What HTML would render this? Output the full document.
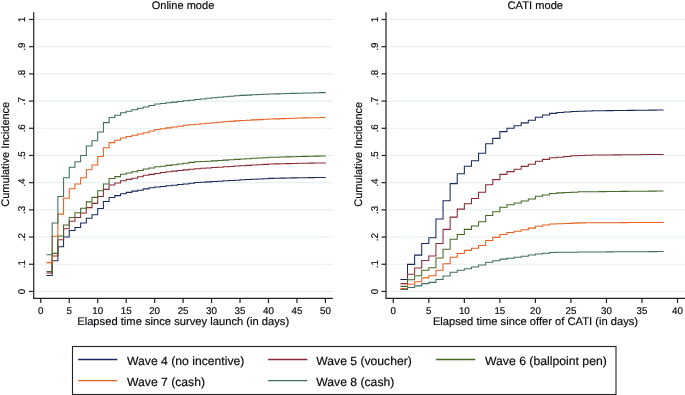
<!DOCTYPE html>
<html lang="en"><head><meta charset="utf-8"><title>Cumulative incidence by mode</title>
<style>html,body{margin:0;padding:0;background:#fff}body{width:685px;height:395px;overflow:hidden}svg{display:block}</style></head>
<body>
<svg width="685" height="395" viewBox="0 0 685 395">
<rect width="685" height="395" fill="#fff"/>
<g stroke="#e6eff1" stroke-width="1.1" fill="none">
<path d="M33.5 291.45H332.9"/>
<path d="M386 291.45H685"/>
<path d="M33.5 264.25H332.9"/>
<path d="M386 264.25H685"/>
<path d="M33.5 237.06H332.9"/>
<path d="M386 237.06H685"/>
<path d="M33.5 209.87H332.9"/>
<path d="M386 209.87H685"/>
<path d="M33.5 182.67H332.9"/>
<path d="M386 182.67H685"/>
<path d="M33.5 155.47H332.9"/>
<path d="M386 155.47H685"/>
<path d="M33.5 128.28H332.9"/>
<path d="M386 128.28H685"/>
<path d="M33.5 101.09H332.9"/>
<path d="M386 101.09H685"/>
<path d="M33.5 73.89H332.9"/>
<path d="M386 73.89H685"/>
<path d="M33.5 46.69H332.9"/>
<path d="M386 46.69H685"/>
<path d="M33.5 19.50H332.9"/>
<path d="M386 19.50H685"/>
</g>
<g fill="none" stroke-width="1.05" stroke-linejoin="miter">
<path stroke="#1a2a5c" d="M46.49 275.43H52.18V260.72H57.88V246.83H63.57V237.02H69.26V230.56H74.95V227.49H80.64V222.96H86.34V218.22H92.03V214.68H97.72V208.42H103.41V201.47H109.10V197.52H114.80V195.62H120.49V193.71H126.18V192.35H131.87V191.12H137.56V190.17H143.26V188.86H148.95V187.72H154.64V187.09H160.33V186.46H166.02V185.81H171.72V185.26H177.41V184.56H183.10V183.90H188.79V183.17H194.48V182.54H200.18V182.19H205.87V181.85H211.56V181.50H217.25V181.17H222.94V180.83H228.64V180.49H234.33V180.15H240.02V179.82H245.71V179.53H251.40V179.24H257.10V178.95H262.79V178.66H268.48V178.37H274.17V178.25H279.86V178.13H285.56V178.01H291.25V177.89H296.94V177.77H302.63V177.69H308.32V177.61H314.02V177.53H319.71V177.45H325.40V177.36"/>
<path stroke="#8a2a36" d="M46.49 272.98H52.18V256.09H57.88V239.74H63.57V228.68H69.26V221.33H74.95V217.41H80.64V213.05H86.34V207.60H92.03V203.35H97.72V196.43H103.41V189.35H109.10V184.99H114.80V183.08H120.49V180.77H126.18V179.38H131.87V178.18H137.56V176.82H143.26V175.32H148.95V174.37H154.64V173.41H160.33V172.46H166.02V171.78H171.72V171.10H177.41V170.55H183.10V169.87H188.79V169.19H194.48V168.65H200.18V168.28H205.87V167.92H211.56V167.56H217.25V167.19H222.94V166.82H228.64V166.45H234.33V166.08H240.02V165.71H245.71V165.37H251.40V165.03H257.10V164.69H262.79V164.35H268.48V164.02H274.17V163.88H279.86V163.74H285.56V163.61H291.25V163.47H296.94V163.34H302.63V163.23H308.32V163.12H314.02V163.01H319.71V162.90H325.40V162.79"/>
<path stroke="#456826" d="M46.49 271.61H52.18V253.36H57.88V235.93H63.57V224.90H69.26V217.41H74.95V212.78H80.64V208.15H86.34V201.88H92.03V197.39H97.72V190.71H103.41V183.90H109.10V178.56H114.80V176.63H120.49V174.29H126.18V173.01H131.87V171.78H137.56V170.55H143.26V168.92H148.95V167.97H154.64V166.82H160.33V166.20H166.02V165.38H171.72V164.70H177.41V163.91H183.10V163.20H188.79V162.38H194.48V161.84H200.18V161.52H205.87V161.20H211.56V160.88H217.25V160.50H222.94V160.12H228.64V159.74H234.33V159.36H240.02V158.98H245.71V158.65H251.40V158.32H257.10V158.00H262.79V157.67H268.48V157.34H274.17V157.18H279.86V157.02H285.56V156.85H291.25V156.69H296.94V156.53H302.63V156.39H308.32V156.25H314.02V156.12H319.71V155.98H325.40V155.84"/>
<path stroke="#e6601f" d="M46.49 262.63H52.18V236.20H57.88V214.14H63.57V198.34H69.26V188.67H74.95V184.04H80.64V177.72H86.34V169.74H92.03V164.94H97.72V156.47H103.41V147.67H109.10V142.63H114.80V140.15H120.49V138.03H126.18V136.50H131.87V135.25H137.56V134.05H143.26V132.69H148.95V131.06H154.64V129.56H160.33V128.71H166.02V127.87H171.72V127.02H177.41V126.18H183.10V125.34H188.79V124.81H194.48V124.29H200.18V123.77H205.87V123.24H211.56V122.72H217.25V122.26H222.94V121.81H228.64V121.35H234.33V120.89H240.02V120.43H245.71V120.16H251.40V119.89H257.10V119.62H262.79V119.34H268.48V119.07H274.17V118.85H279.86V118.63H285.56V118.42H291.25V118.20H296.94V117.98H302.63V117.87H308.32V117.76H314.02V117.65H319.71V117.55H325.40V117.44"/>
<path stroke="#3f6e5e" d="M46.49 254.73H52.18V222.99H57.88V196.43H63.57V177.72H69.26V167.20H74.95V161.84H80.64V155.41H86.34V146.04H92.03V140.73H97.72V131.98H103.41V122.61H109.10V117.52H114.80V115.26H120.49V112.72H126.18V111.17H131.87V109.81H137.56V108.28H143.26V107.09H148.95V105.45H154.64V104.09H160.33V103.44H166.02V102.78H171.72V102.13H177.41V101.47H183.10V100.82H188.79V100.19H194.48V99.57H200.18V98.94H205.87V98.31H211.56V97.69H217.25V97.22H222.94V96.76H228.64V96.30H234.33V95.84H240.02V95.37H245.71V95.10H251.40V94.83H257.10V94.55H262.79V94.28H268.48V94.01H274.17V93.85H279.86V93.68H285.56V93.52H291.25V93.36H296.94V93.19H302.63V93.05H308.32V92.91H314.02V92.77H319.71V92.63H325.40V92.48"/>
<path stroke="#1a2a5c" d="M400.41 279.41H407.51V264.37H414.62V255.11H421.72V243.48H428.83V237.84H435.93V219.04H443.04V200.71H450.14V183.63H457.25V173.66H464.35V166.20H471.46V160.75H478.56V153.18H485.67V143.80H492.77V138.36H499.88V131.60H506.98V128.28H514.09V125.72H521.19V122.88H528.30V120.30H535.40V117.16H542.50V114.98H549.61V113.35H556.72V112.53H563.82V111.99H570.92V111.58H578.03V111.17H585.13V110.90H592.24V110.81H599.35V110.73H606.45V110.64H613.56V110.55H620.66V110.47H627.76V110.38H634.87V110.29H641.98V110.21H649.08V110.12H656.18V110.03H663.29V109.95"/>
<path stroke="#8a2a36" d="M400.41 283.60H407.51V274.34H414.62V268.07H421.72V260.45H428.83V256.09H435.93V243.56H443.04V229.39H450.14V217.13H457.25V209.13H464.35V203.65H471.46V198.50H478.56V192.26H485.67V184.72H492.77V179.63H499.88V174.37H506.98V171.64H514.09V169.19H521.19V166.39H528.30V164.34H535.40V161.29H542.50V159.39H549.61V157.75H556.72V157.21H563.82V156.53H570.92V155.84H578.03V155.44H585.13V155.16H592.24V155.09H599.35V155.02H606.45V154.95H613.56V154.88H620.66V154.80H627.76V154.73H634.87V154.66H641.98V154.59H649.08V154.52H656.18V154.45H663.29V154.37"/>
<path stroke="#456826" d="M400.41 286.38H407.51V279.79H414.62V275.76H421.72V270.31H428.83V267.80H435.93V258.05H443.04V249.17H450.14V239.31H457.25V234.49H464.35V229.39H471.46V226.02H478.56V221.71H485.67V215.50H492.77V211.69H499.88V207.19H506.98V204.66H514.09V202.97H521.19V200.93H528.30V199.05H535.40V196.27H542.50V194.99H549.61V193.57H556.72V192.89H563.82V192.48H570.92V192.21H578.03V191.80H585.13V191.73H592.24V191.67H599.35V191.60H606.45V191.53H613.56V191.46H620.66V191.39H627.76V191.32H634.87V191.26H641.98V191.19H649.08V191.12H656.18V191.05H663.29V190.98"/>
<path stroke="#e6601f" d="M400.41 288.42H407.51V284.23H414.62V281.69H421.72V277.88H428.83V275.76H435.93V270.31H443.04V263.72H450.14V257.29H457.25V253.47H464.35V250.37H471.46V248.19H478.56V245.46H485.67V240.56H492.77V237.37H499.88V234.46H506.98V232.55H514.09V231.30H521.19V229.67H528.30V228.11H535.40V226.23H542.50V224.95H549.61V223.94H556.72V223.67H563.82V223.40H570.92V223.13H578.03V222.86H585.13V222.81H592.24V222.77H599.35V222.73H606.45V222.69H613.56V222.65H620.66V222.61H627.76V222.57H634.87V222.53H641.98V222.49H649.08V222.45H656.18V222.41H663.29V222.36"/>
<path stroke="#3f6e5e" d="M400.41 289.57H407.51V287.41H414.62V285.89H421.72V283.60H428.83V282.35H435.93V279.57H443.04V276.03H450.14V272.21H457.25V270.31H464.35V268.67H471.46V266.98H478.56V264.91H485.67V262.30H492.77V260.77H499.88V259.14H506.98V258.27H514.09V257.23H521.19V256.22H528.30V255.08H535.40V254.07H542.50V253.17H549.61V252.44H556.72V252.34H563.82V252.25H570.92V252.15H578.03V252.06H585.13V252.01H592.24V251.97H599.35V251.92H606.45V251.87H613.56V251.83H620.66V251.78H627.76V251.74H634.87V251.69H641.98V251.65H649.08V251.60H656.18V251.56H663.29V251.51"/>
</g>
<g stroke="#222" stroke-width="1.2" fill="none">
<path d="M33.7 12.2V298.35H332.8"/>
<path d="M386 12.2V298.35H685"/>
<path d="M29 291.45H33.7"/>
<path d="M381.5 291.45H386"/>
<path d="M29 264.25H33.7"/>
<path d="M381.5 264.25H386"/>
<path d="M29 237.06H33.7"/>
<path d="M381.5 237.06H386"/>
<path d="M29 209.87H33.7"/>
<path d="M381.5 209.87H386"/>
<path d="M29 182.67H33.7"/>
<path d="M381.5 182.67H386"/>
<path d="M29 155.47H33.7"/>
<path d="M381.5 155.47H386"/>
<path d="M29 128.28H33.7"/>
<path d="M381.5 128.28H386"/>
<path d="M29 101.09H33.7"/>
<path d="M381.5 101.09H386"/>
<path d="M29 73.89H33.7"/>
<path d="M381.5 73.89H386"/>
<path d="M29 46.69H33.7"/>
<path d="M381.5 46.69H386"/>
<path d="M29 19.50H33.7"/>
<path d="M381.5 19.50H386"/>
<path d="M40.80 298.35V303.1"/>
<path d="M69.26 298.35V303.1"/>
<path d="M97.72 298.35V303.1"/>
<path d="M126.18 298.35V303.1"/>
<path d="M154.64 298.35V303.1"/>
<path d="M183.10 298.35V303.1"/>
<path d="M211.56 298.35V303.1"/>
<path d="M240.02 298.35V303.1"/>
<path d="M268.48 298.35V303.1"/>
<path d="M296.94 298.35V303.1"/>
<path d="M325.40 298.35V303.1"/>
<path d="M393.30 298.35V303.1"/>
<path d="M428.83 298.35V303.1"/>
<path d="M464.35 298.35V303.1"/>
<path d="M499.88 298.35V303.1"/>
<path d="M535.40 298.35V303.1"/>
<path d="M570.92 298.35V303.1"/>
<path d="M606.45 298.35V303.1"/>
<path d="M641.98 298.35V303.1"/>
<path d="M677.50 298.35V303.1"/>
</g>
<g font-family="'Liberation Sans', Arial, sans-serif" fill="#0b0b12" stroke="#0b0b12" stroke-width="0.18" text-rendering="geometricPrecision">
<g font-size="9.8" text-anchor="middle">
<text x="40.80" y="314">0</text>
<text x="69.26" y="314">5</text>
<text x="97.72" y="314">10</text>
<text x="126.18" y="314">15</text>
<text x="154.64" y="314">20</text>
<text x="183.10" y="314">25</text>
<text x="211.56" y="314">30</text>
<text x="240.02" y="314">35</text>
<text x="268.48" y="314">40</text>
<text x="296.94" y="314">45</text>
<text x="325.40" y="314">50</text>
<text x="393.30" y="314">0</text>
<text x="428.83" y="314">5</text>
<text x="464.35" y="314">10</text>
<text x="499.88" y="314">15</text>
<text x="535.40" y="314">20</text>
<text x="570.92" y="314">25</text>
<text x="606.45" y="314">30</text>
<text x="641.98" y="314">35</text>
<text x="677.50" y="314">40</text>
</g>
<g font-size="9.8" text-anchor="middle">
<text transform="translate(25.2 291.45) rotate(-90)">0</text>
<text transform="translate(377.7 291.45) rotate(-90)">0</text>
<text transform="translate(25.2 264.25) rotate(-90)">.1</text>
<text transform="translate(377.7 264.25) rotate(-90)">.1</text>
<text transform="translate(25.2 237.06) rotate(-90)">.2</text>
<text transform="translate(377.7 237.06) rotate(-90)">.2</text>
<text transform="translate(25.2 209.87) rotate(-90)">.3</text>
<text transform="translate(377.7 209.87) rotate(-90)">.3</text>
<text transform="translate(25.2 182.67) rotate(-90)">.4</text>
<text transform="translate(377.7 182.67) rotate(-90)">.4</text>
<text transform="translate(25.2 155.47) rotate(-90)">.5</text>
<text transform="translate(377.7 155.47) rotate(-90)">.5</text>
<text transform="translate(25.2 128.28) rotate(-90)">.6</text>
<text transform="translate(377.7 128.28) rotate(-90)">.6</text>
<text transform="translate(25.2 101.09) rotate(-90)">.7</text>
<text transform="translate(377.7 101.09) rotate(-90)">.7</text>
<text transform="translate(25.2 73.89) rotate(-90)">.8</text>
<text transform="translate(377.7 73.89) rotate(-90)">.8</text>
<text transform="translate(25.2 46.69) rotate(-90)">.9</text>
<text transform="translate(377.7 46.69) rotate(-90)">.9</text>
<text transform="translate(25.2 19.50) rotate(-90)">1</text>
<text transform="translate(377.7 19.50) rotate(-90)">1</text>
</g>
<text x="183" y="8.9" font-size="11" text-anchor="middle" textLength="62.6" lengthAdjust="spacingAndGlyphs">Online mode</text>
<text x="535.3" y="8.9" font-size="11" text-anchor="middle" textLength="55.4" lengthAdjust="spacingAndGlyphs">CATI mode</text>
<text x="183.2" y="324.8" font-size="11" text-anchor="middle" textLength="212" lengthAdjust="spacingAndGlyphs">Elapsed time since survey launch (in days)</text>
<text x="535.5" y="324.8" font-size="11" text-anchor="middle" textLength="205.2" lengthAdjust="spacingAndGlyphs">Elapsed time since offer of CATI (in days)</text>
<text transform="translate(9.1 154.3) rotate(-90)" font-size="11" text-anchor="middle" textLength="105" lengthAdjust="spacingAndGlyphs">Cumulative Incidence</text>
<text transform="translate(362.2 154.3) rotate(-90)" font-size="11" text-anchor="middle" textLength="105" lengthAdjust="spacingAndGlyphs">Cumulative Incidence</text>
<g font-size="12" lengthAdjust="spacingAndGlyphs">
<text x="127.0" y="364.6" textLength="117.3" lengthAdjust="spacingAndGlyphs">Wave 4 (no incentive)</text>
<text x="316.3" y="364.6" textLength="95.5" lengthAdjust="spacingAndGlyphs">Wave 5 (voucher)</text>
<text x="485.0" y="364.6" textLength="121.8" lengthAdjust="spacingAndGlyphs">Wave 6 (ballpoint pen)</text>
<text x="127.0" y="385.5" textLength="78" lengthAdjust="spacingAndGlyphs">Wave 7 (cash)</text>
<text x="316.3" y="385.5" textLength="78" lengthAdjust="spacingAndGlyphs">Wave 8 (cash)</text>
</g>
</g>
<rect x="72.5" y="346.5" width="543.5" height="48" fill="none" stroke="#222" stroke-width="1.1"/>
<g fill="none" stroke-width="1.3">
<path stroke="#1a2a5c" d="M78.1 359.5h39.2"/>
<path stroke="#8a2a36" d="M268.1 359.5h39.2"/>
<path stroke="#456826" d="M436.1 359.5h39.2"/>
<path stroke="#e6601f" d="M78.1 380.7h39.2"/>
<path stroke="#3f6e5e" d="M268.1 380.7h39.2"/>
</g>
</svg>
</body></html>
